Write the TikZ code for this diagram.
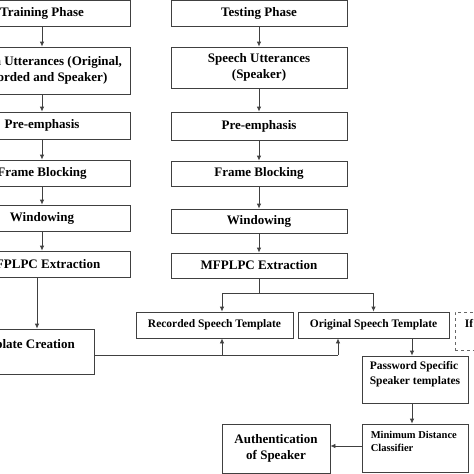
\documentclass[tikz,border=0pt]{standalone}
\usepackage{fontspec}
\setmainfont{Liberation Serif}
\usetikzlibrary{arrows.meta}
\tikzset{
  stage/.style={draw=black!75, line width=0.8pt, align=center, inner sep=0pt,
    font=\fontsize{13}{16}\selectfont\bfseries},
  tmplbox/.style={stage, font=\fontsize{11.5}{14}\selectfont\bfseries},
  plainbox/.style={draw=black!75, line width=0.8pt, inner sep=0pt},
  boxtext/.style={inner sep=0pt, align=left, anchor=north west,
    font=\fontsize{11.5}{15}\selectfont\bfseries},
  arr/.style={draw=black!75, line width=0.8pt, -{Latex[length=5pt,width=4.5pt]}},
  link/.style={draw=black!75, line width=0.8pt},
}
\begin{document}
\begin{tikzpicture}[x=1pt,y=-1pt]
  \useasboundingbox (0,0) rectangle (474,474);
  \clip (0,0) rectangle (474,474);
  % training side
  \node[stage, minimum width=176pt, minimum height=26pt] (train) at (42,13.5) {Training Phase};
  \node[stage, minimum width=176pt, minimum height=47pt] (lutt) at (42,70.5) {Speech Utterances (Original,\\Recorded and Speaker)};
  \node[stage, minimum width=176pt, minimum height=27pt] (lpre) at (42,125.5) {Pre-emphasis};
  \node[stage, minimum width=176pt, minimum height=26pt] (lframe) at (42,173) {Frame Blocking};
  \node[stage, minimum width=176pt, minimum height=26pt] (lwin) at (42,218) {Windowing};
  \node[stage, minimum width=176pt, minimum height=26pt] (lmf) at (42,264) {MFPLPC Extraction};
  \node[stage, minimum width=142pt, minimum height=45pt] (tmpl) at (23,351.5) {Template Creation\\\mbox{}};
  % testing side
  \node[stage, minimum width=176pt, minimum height=26pt] (test) at (259,13.5) {Testing Phase};
  \node[stage, minimum width=176pt, minimum height=41pt] (rutt) at (259,67.5) {Speech Utterances\\(Speaker)};
  \node[stage, minimum width=176pt, minimum height=28pt] (rpre) at (259,126) {Pre-emphasis};
  \node[stage, minimum width=176pt, minimum height=25pt] (rframe) at (259,173.5) {Frame Blocking};
  \node[stage, minimum width=176pt, minimum height=24pt] (rwin) at (259,221) {Windowing};
  \node[stage, minimum width=176pt, minimum height=25pt] (rmf) at (259,265.5) {MFPLPC Extraction};
  \node[tmplbox, minimum width=157pt, minimum height=26pt] (rec) at (214.5,325) {Recorded Speech Template};
  \node[tmplbox, minimum width=151pt, minimum height=26pt] (orig) at (373.5,325) {Original Speech Template};
  \node[plainbox, dashed, draw=black!60, minimum width=110pt, minimum height=38pt] (cond) at (510,331) {};
  \node[boxtext] (condtxt) at ([shift={(10,8)}]cond.north west) {If};
  \node[plainbox, minimum width=106pt, minimum height=47pt] (pass) at (415,379.5) {};
  \node[boxtext] (passtxt) at ([shift={(8,6)}]pass.north west) {Password Specific\\Speaker templates};
  \node[plainbox, minimum width=106pt, minimum height=48pt] (mdc) at (415,448) {};
  \node[boxtext, font=\fontsize{10.5}{13}\selectfont\bfseries] (mdctxt) at ([shift={(9,7)}]mdc.north west) {Minimum Distance\\Classifier};
  \node[stage, minimum width=108pt, minimum height=49pt] (auth) at (276,448.5) {Authentication\\of Speaker};

  % training flow
  \draw[arr] (train) -- (lutt);
  \draw[arr] (lutt) -- (lpre);
  \draw[arr] (lpre) -- (lframe);
  \draw[arr] (lframe) -- (lwin);
  \draw[arr] (lwin) -- (lmf);
  \draw[arr] ([xshift=-5pt]lmf.south) -- ([xshift=-5pt]lmf.south |- tmpl.north);
  % testing flow
  \draw[arr] (test) -- (rutt);
  \draw[arr] (rutt) -- (rpre);
  \draw[arr] (rpre) -- (rframe);
  \draw[arr] (rframe) -- (rwin);
  \draw[arr] (rwin) -- (rmf);
  \coordinate (split) at (259,293);
  \draw[link] (rmf) -- (split);
  \draw[arr] (split) -| ([xshift=7.5pt]rec.north);
  \draw[arr] (split) -| (orig.north);
  % templates into the two boxes
  \coordinate (recin) at (222,355);
  \coordinate (orgin) at (338,355);
  \draw[link] (tmpl.east |- recin) -- (orgin);
  \draw[arr] (recin) -- (recin |- rec.south);
  \draw[arr] (orgin) -- (orgin |- orig.south);
  % verification
  \draw[arr] (orig.south -| 412,0) -- (pass.north -| 412,0);
  \draw[arr] (pass.south -| 412,0) -- (mdc.north -| 412,0);
  \draw[arr] (mdc.west |- 0,446) -- (auth.east |- 0,446);
\end{tikzpicture}
\end{document}
